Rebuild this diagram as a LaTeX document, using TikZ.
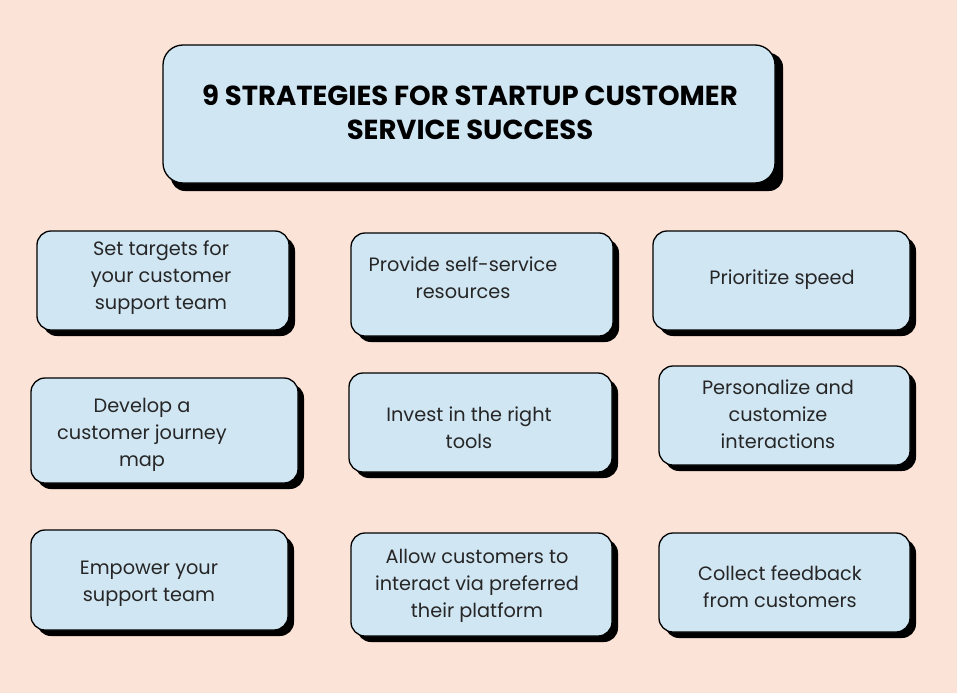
\documentclass[tikz,border=0pt]{standalone}
\usepackage{fontspec}
\setmainfont{Poppins}
\definecolor{bg}{HTML}{FCE3D8}
\definecolor{boxb}{HTML}{D0E6F3}
\begin{document}
\begin{tikzpicture}[x=1pt,y=-1pt,
  card/.style={draw=black,line width=1.3pt,fill=boxb,rounded corners=14pt},
  shadow/.style={fill=black,rounded corners=14pt},
  txt/.style={align=center,font=\fontsize{19.3}{27}\selectfont,text=black!85}]
\fill[bg] (0,0) rectangle (957,693);
\useasboundingbox (0,0) rectangle (957,693);
\newcommand\card[8]{%
  \fill[shadow] (#1+6,#2+6) rectangle (#3+6,#4+6);
  \draw[card] (#1,#2) rectangle (#3,#4);
  \node[txt] (#5) at (#6,#7) {#8};}
\fill[shadow] (171,53) rectangle (783,191);
\draw[card,rounded corners=20pt] (163,45) rectangle (775,183);
\node[align=center,font=\bfseries\fontsize{27.5}{34}\selectfont] (title) at (470,112) {9 STRATEGIES FOR STARTUP CUSTOMER\\SERVICE SUCCESS};
\card{37}{231}{289}{330}{a}{161}{278}{Set targets for\\your customer\\support team}
\card{351}{233}{613}{336}{b}{463}{278}{Provide self-service\\resources}
\card{653}{231}{910}{330}{c}{782}{280}{Prioritize speed}
\card{31}{378}{298}{483}{d}{142}{435}{Develop a\\customer journey\\map}
\card{349}{373}{612}{472}{e}{469}{428}{Invest in the right\\tools}
\card{659}{366}{910}{465}{f}{778}{414}{Personalize and\\customize\\interactions}
\card{31}{530}{288}{630}{g}{149}{584}{Empower your\\support team}
\card{351}{533}{612}{636}{h}{477}{586}{Allow customers to\\interact via preferred\\their platform}
\card{659}{533}{910}{632}{i}{780}{587}{Collect feedback\\from customers}
\end{tikzpicture}
\end{document}
